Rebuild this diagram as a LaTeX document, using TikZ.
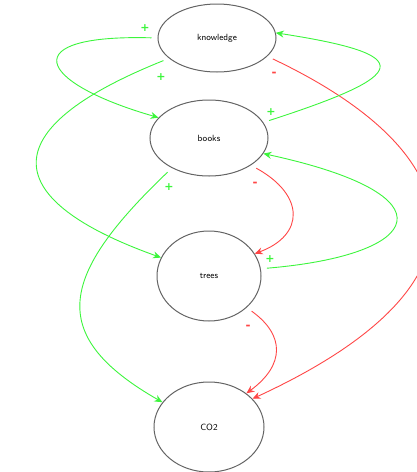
\documentclass[tikz,border=0pt]{standalone}
\usepackage{fontspec}
\newfontfamily\signfont{DejaVu Sans}
\usetikzlibrary{shapes.geometric,arrows.meta}
\definecolor{posgreen}{RGB}{60,245,60}
\definecolor{negred}{RGB}{255,70,70}
\definecolor{nodegray}{RGB}{100,100,100}
\begin{document}
\begin{tikzpicture}[
    x=1pt, y=-1pt,
    var/.style={draw=nodegray, ellipse, line width=1pt, inner sep=0pt,
                font=\sffamily\fontsize{9}{10}\selectfont},
    poslink/.style={draw=posgreen, line width=0.9pt, shorten <=6pt,
                -{Stealth[length=8pt,width=7pt]}},
    neglink/.style={draw=negred, line width=0.9pt, shorten <=6pt,
                -{Stealth[length=8pt,width=7pt]}},
    plussign/.style={text=posgreen, font=\signfont\bfseries\fontsize{11}{11}\selectfont},
    minussign/.style={text=negred, font=\signfont\bfseries\fontsize{12}{12}\selectfont}
]
\useasboundingbox (0,0) rectangle (416,472);

% Noduri (variabile)
\node[var, minimum width=118pt, minimum height=68pt] (knowledge) at (217,38)  {knowledge};
\node[var, minimum width=118pt, minimum height=76pt] (books)     at (209,138) {books};
\node[var, minimum width=104pt, minimum height=90pt] (trees)     at (209,276) {trees};
\node[var, minimum width=110pt, minimum height=90pt] (co2)       at (209,427) {CO2};

% knowledge -> books (+)
\draw[poslink] (knowledge.180) .. controls (15,34) and (35,82) .. (books.158);
\node[plussign] (s1) at (145,28) {+};

% knowledge -> trees (+)
\draw[poslink] (knowledge.203) .. controls (-10,130) and (0,200) .. (trees.159);
\node[plussign] (s2) at (161,77) {+};

% knowledge -> CO2 (-)
\draw[neglink] (knowledge.340) .. controls (465,150) and (510,280) .. (co2.33);
\node[minussign] (s3) at (274,74) {-};

% books -> knowledge (+)
\draw[poslink] (books.16) .. controls (410,75) and (420,55) .. (knowledge.5);
\node[plussign] (s4) at (271,112) {+};

% books -> trees (-)
\draw[neglink] (books.327) .. controls (305,195) and (305,235) .. (trees.26);
\node[minussign] (s5) at (255,184) {-};

% books -> CO2 (+)
\draw[poslink] (books.219) .. controls (60,275) and (45,335) .. (co2.152);
\node[plussign] (s6) at (169,187) {+};

% trees -> books (+)
\draw[poslink] (trees.8) .. controls (425,255) and (455,195) .. (books.344);
\node[plussign] (s7) at (270,259) {+};

% trees -> CO2 (-)
\draw[neglink] (trees.320) .. controls (285,335) and (285,365) .. (co2.42);
\node[minussign] (s8) at (248,327) {-};

\end{tikzpicture}
\end{document}
